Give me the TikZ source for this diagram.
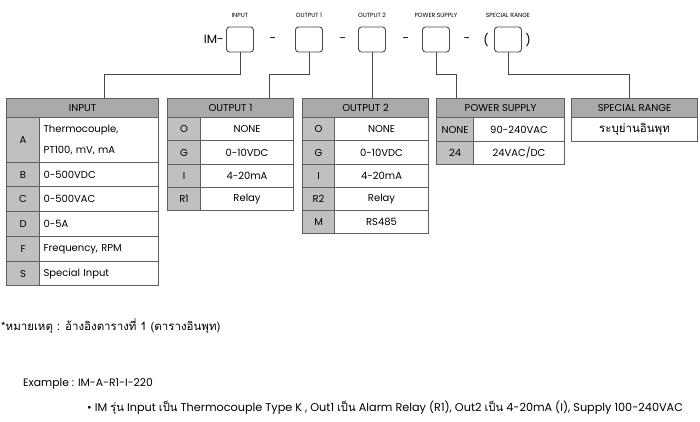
\documentclass[tikz,border=0pt]{standalone}
\usepackage{fontspec}
\setmainfont{Poppins}
\newfontfamily\thaifont[Script=Thai]{Loma}
\usepackage{tikz}
\usetikzlibrary{positioning}
\definecolor{hdrgray}{RGB}{170,170,170}
\definecolor{keygray}{RGB}{192,192,192}
\definecolor{linegray}{RGB}{95,95,95}
\definecolor{linkgray}{RGB}{70,70,70}

\begin{document}
\begin{tikzpicture}[x=1pt,y=-1pt,
  cell/.style={draw=linegray,line width=1.1pt,anchor=north west,inner sep=0pt,font=\fontsize{10}{12}\selectfont},
  hdr/.style={cell,fill=hdrgray},
  keycell/.style={cell,fill=keygray},
  valcell/.style={cell,fill=white},
  sz/.style 2 args={minimum width=#1pt,minimum height=#2pt},
  lft/.style={text width=111pt,align=left,inner xsep=4pt},
  codebox/.style={draw=linkgray,line width=0.9pt,rounded corners=3pt,minimum width=27pt,minimum height=25pt},
  codetxt/.style={inner sep=0pt,font=\fontsize{12}{14}\selectfont},
  toplbl/.style={inner sep=0pt,font=\fontsize{6}{7}\selectfont},
  link/.style={draw=linkgray,line width=1pt},
  plain/.style={anchor=west,inner sep=0pt,font=\fontsize{10.8}{13}\selectfont}]
  \useasboundingbox (0,0) rectangle (700,421);

  % code boxes
  \node[codebox] (bin) at (240,39.5) {};
  \node[codebox] (bo1) at (309,39.5) {};
  \node[codebox] (bo2) at (372,39.5) {};
  \node[codebox] (bpw) at (436,39.5) {};
  \node[codebox] (bsp) at (508,39.5) {};
  \node[codetxt,left=2pt of bin] (im) {IM-};
  \node[codetxt] (d1) at (273,40) {-};
  \node[codetxt] (d2) at (343,40) {-};
  \node[codetxt] (d3) at (406,40) {-};
  \node[codetxt] (d4) at (467,40) {-};
  \node[codetxt] (pl) at (486,40) {(};
  \node[codetxt] (pr) at (528,40) {)};
  \node[toplbl] (lin) at (240,15) {INPUT};
  \node[toplbl] (lo1) at (309,15) {OUTPUT 1};
  \node[toplbl] (lo2) at (372,15) {OUTPUT 2};
  \node[toplbl] (lpw) at (436,15) {POWER SUPPLY};
  \node[toplbl] (lsp) at (508,15) {SPECIAL RANGE};

  % INPUT
  \node[hdr,sz={152}{19}] (hin) at (6,98) {INPUT};
  \node[keycell,sz={33}{45}] (kA) at (6,117) {A};
  \node[valcell,sz={119}{45},lft,font=\fontsize{10}{21}\selectfont] (vA) at (39,117) {Thermocouple,\\PT100, mV, mA};
  \node[keycell,sz={33}{24}] (kB) at (6,162) {B};
  \node[valcell,sz={119}{24},lft] (vB) at (39,162) {0-500VDC};
  \node[keycell,sz={33}{25}] (kC) at (6,186) {C};
  \node[valcell,sz={119}{25},lft] (vC) at (39,186) {0-500VAC};
  \node[keycell,sz={33}{25}] (kD) at (6,211) {D};
  \node[valcell,sz={119}{25},lft] (vD) at (39,211) {0-5A};
  \node[keycell,sz={33}{25}] (kF) at (6,236) {F};
  \node[valcell,sz={119}{25},lft] (vF) at (39,236) {Frequency, RPM};
  \node[keycell,sz={33}{24}] (kS) at (6,261) {S};
  \node[valcell,sz={119}{24},lft] (vS) at (39,261) {Special Input};

  % OUTPUT 1
  \node[hdr,sz={126}{19}] (ho1) at (167,98) {OUTPUT 1};
  \node[keycell,sz={33}{23}] (o1k1) at (167,117) {O};
  \node[valcell,sz={93}{23}] (o1v1) at (200,117) {NONE};
  \node[keycell,sz={33}{24}] (o1k2) at (167,140) {G};
  \node[valcell,sz={93}{24}] (o1v2) at (200,140) {0-10VDC};
  \node[keycell,sz={33}{23}] (o1k3) at (167,164) {I};
  \node[valcell,sz={93}{23}] (o1v3) at (200,164) {4-20mA};
  \node[keycell,sz={33}{23}] (o1k4) at (167,187) {R1};
  \node[valcell,sz={93}{23}] (o1v4) at (200,187) {Relay};

  % OUTPUT 2
  \node[hdr,sz={126}{19}] (ho2) at (302,98) {OUTPUT 2};
  \node[keycell,sz={32}{23}] (o2k1) at (302,117) {O};
  \node[valcell,sz={94}{23}] (o2v1) at (334,117) {NONE};
  \node[keycell,sz={32}{24}] (o2k2) at (302,140) {G};
  \node[valcell,sz={94}{24}] (o2v2) at (334,140) {0-10VDC};
  \node[keycell,sz={32}{23}] (o2k3) at (302,164) {I};
  \node[valcell,sz={94}{23}] (o2v3) at (334,164) {4-20mA};
  \node[keycell,sz={32}{23}] (o2k4) at (302,187) {R2};
  \node[valcell,sz={94}{23}] (o2v4) at (334,187) {Relay};
  \node[keycell,sz={32}{23}] (o2k5) at (302,210) {M};
  \node[valcell,sz={94}{23}] (o2v5) at (334,210) {RS485};

  % POWER SUPPLY
  \node[hdr,sz={128}{19}] (hpw) at (436,98) {POWER SUPPLY};
  \node[keycell,sz={37}{24}] (pwk1) at (436,117) {NONE};
  \node[valcell,sz={91}{24}] (pwv1) at (473,117) {90-240VAC};
  \node[keycell,sz={37}{23}] (pwk2) at (436,141) {24};
  \node[valcell,sz={91}{23}] (pwv2) at (473,141) {24VAC/DC};

  % SPECIAL RANGE
  \node[hdr,sz={126}{19}] (hsp) at (571,98) {SPECIAL RANGE};
  \node[valcell,sz={126}{24},font=\thaifont\fontsize{11.5}{13}\selectfont] (spv1) at (571,117) {ระบุย่านอินพุท};

  % connectors
  \coordinate (jin) at (104,74);
  \draw[link] (bin.south) |- (jin) -- (jin |- hin.north);
  \coordinate (jo1) at (269,74);
  \draw[link] (bo1.south) |- (jo1) -- (jo1 |- ho1.north);
  \draw[link] (bo2.south) -- (bo2.south |- ho2.north);
  \coordinate (jpw) at (456,74);
  \draw[link] (bpw.south) |- (jpw) -- (jpw |- hpw.north);
  \coordinate (jsp) at (629,74);
  \draw[link] (bsp.south) |- (jsp) -- (jsp |- hsp.north);

  % notes
  \node[plain,font=\thaifont\fontsize{11.5}{13}\selectfont] (note) at (1,326) {*หมายเหตุ : อ้างอิงตารางที่ 1 (ตารางอินพุท)};
  \node[plain] (ex) at (23,384) {Example : IM-A-R1-I-220};
  \node[plain,font=\fontsize{11.25}{13}\selectfont] (exline) at (87,408) {\textbullet\ IM {\thaifont รุ่น} Input {\thaifont เป็น} Thermocouple Type K , Out1 {\thaifont เป็น} Alarm Relay (R1), Out2 {\thaifont เป็น} 4-20mA (I), Supply 100-240VAC};
\end{tikzpicture}
\end{document}
